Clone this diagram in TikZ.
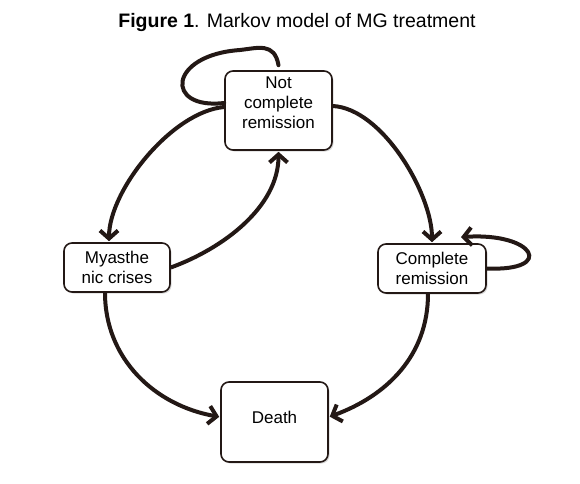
\documentclass[tikz,border=0pt]{standalone}
\usepackage{fontspec}
\setmainfont{Liberation Sans}
\usetikzlibrary{arrows.meta,shadows}
\definecolor{ink}{RGB}{35,24,21}

\begin{document}
\begin{tikzpicture}[x=1pt,y=1pt,
		state/.style={draw=ink, line width=1.6pt, rounded corners=8pt, fill=white, align=center, inner sep=0pt,
			font=\fontsize{17}{20}\selectfont, minimum width=107pt,
			drop shadow={shadow xshift=1.5pt, shadow yshift=-1.5pt, fill=black!15, opacity=1}},
		lbl/.style={align=center, font=\fontsize{17}{20}\selectfont},
		trans/.style={draw=ink, line width=4pt, -{Straight Barb[length=8pt,width=18pt]}, shorten >=1pt}]
	\useasboundingbox (0,0) rectangle (580,483);
	\node[anchor=base, font=\fontsize{19.5}{23}\selectfont] (title) at (297,455) {\textbf{Figure 1}. Markov model of MG treatment};
	% states
	\node[state, minimum height=79pt, label={[lbl,yshift=7.5pt]center:Not\\complete\\remission}] (ncr) at (278.5,372.5) {};
	\node[state, minimum height=49pt, minimum width=106pt] (mc) at (117,215.5) {Myasthe\\nic crises};
	\node[state, minimum height=49pt, minimum width=108pt] (cr) at (432,214.5) {Complete\\remission};
	\node[state, minimum height=80pt, label={[lbl,yshift=5pt]center:Death}] (death) at (274.5,61) {};
	\coordinate (ncr loop) at (240,433);
	% transitions
	\path[every edge/.append style={trans}]
	([yshift=3.5pt]ncr.west) edge[out=185, in=90, looseness=0.75] ([xshift=-8pt]mc.north)
	(mc.east) edge[out=20, in=-90, looseness=0.9] (ncr.south)
	([yshift=4.5pt]ncr.east) edge[out=-3, in=90, looseness=0.75] (cr.north)
	([xshift=-12pt]mc.south) edge[out=-90, in=170] ([yshift=5pt]death.west)
	([xshift=-4pt]cr.south) edge[out=-90, in=20] ([yshift=5pt]death.east);
	\draw[ink, line width=4pt, line cap=round] ([yshift=7.5pt]ncr.west) .. controls +(-60,-7) and +(-72,-5) .. (ncr loop)
		.. controls +(18,2) and +(-4,23) .. ([yshift=5pt]ncr.north);
	\draw[trans] (cr.east) .. controls +(69,-3) and +(75,5) .. ([xshift=28pt,yshift=6pt]cr.north);
\end{tikzpicture}
\end{document}
